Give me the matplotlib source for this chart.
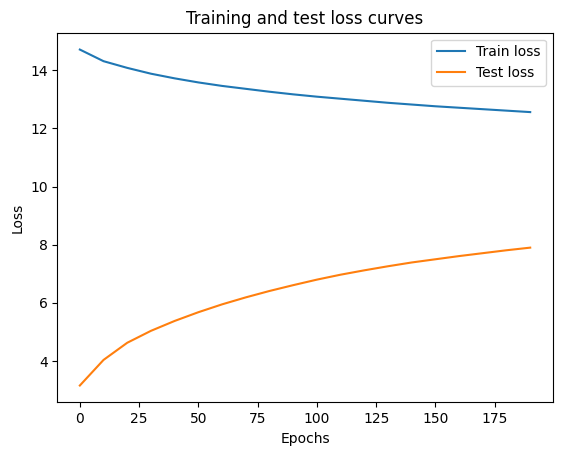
import numpy as np
import matplotlib
matplotlib.use("Agg")
import matplotlib.pyplot as plt

epochs = list(range(0, 200, 10))
train_loss = [14.71, 14.31, 14.08, 13.88, 13.72, 13.58, 13.46, 13.36, 13.26, 13.17,
              13.09, 13.02, 12.95, 12.88, 12.82, 12.76, 12.71, 12.66, 12.61, 12.56]
test_loss = [3.16, 4.04, 4.63, 5.04, 5.38, 5.68, 5.95, 6.19, 6.41, 6.61,
             6.80, 6.97, 7.12, 7.26, 7.39, 7.50, 7.61, 7.71, 7.81, 7.90]

fig = plt.figure(figsize=(5.62, 4.55), dpi=100)
fig.subplots_adjust(left=0.102, right=0.9835, top=0.928, bottom=0.1158)
ax = fig.add_subplot(111)

ax.plot(epochs, train_loss, label="Train loss")
ax.plot(epochs, test_loss, label="Test loss")
ax.set_title("Training and test loss curves")
ax.set_ylabel("Loss")
ax.set_xlabel("Epochs")
ax.legend()

fig.savefig("out.png", dpi=100)
